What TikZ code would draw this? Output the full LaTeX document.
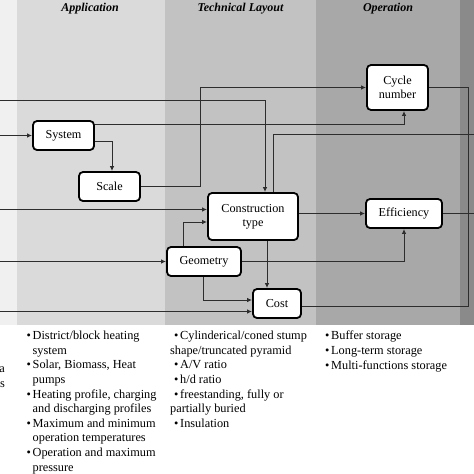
\documentclass[tikz,border=0pt]{standalone}
\usepackage{fontspec}
\setmainfont{Liberation Serif}
\usetikzlibrary{arrows.meta, positioning, calc}
\definecolor{colBandA}{RGB}{240,240,240}
\definecolor{colBandB}{RGB}{218,218,218}
\definecolor{colBandC}{RGB}{194,194,194}
\definecolor{colBandD}{RGB}{168,168,168}
\definecolor{colBandE}{RGB}{138,138,138}
\definecolor{colLine}{RGB}{45,45,45}

\begin{document}
\begin{tikzpicture}[
  x=1pt, y=-1pt,
  arr/.style={-{Latex[length=5pt,width=4.5pt]}, line width=1pt, draw=colLine},
  link/.style={line width=1pt, draw=colLine},
  box/.style={draw, line width=1.8pt, rounded corners=4pt, fill=white, inner sep=0pt,
              font=\fontsize{12.2}{14}\selectfont, align=center, minimum height=29pt},
  head/.style={font=\fontsize{12}{14}\selectfont\bfseries\itshape},
  listtxt/.style={anchor=north west, align=left, inner sep=0pt,
                  font=\fontsize{12.3}{14.6}\selectfont},
]
\useasboundingbox (0,0) rectangle (474,474);

% Phase bands
\foreach \xa/\xb/\col in {0/17/colBandA, 17/165/colBandB, 165/316/colBandC,
                           316/460/colBandD, 460/474/colBandE} {
  \fill[\col] (\xa,0) rectangle (\xb,325);
}
\node[head] (hApp) at (90,9) {Application};
\node[head] (hTech) at (240.5,9) {Technical Layout};
\node[head] (hOp) at (388,9) {Operation};

% Blocks
\node[box, minimum width=61pt] (sys) at (63.5,135.5) {System};
\node[box, minimum width=61pt] (scale) at (109.5,186.5) {Scale};
\node[box, minimum width=90pt, minimum height=47pt] (constr) at (253,216.5) {Construction\\type};
\node[box, minimum width=74pt] (geom) at (204,261.5) {Geometry};
\node[box, minimum width=48pt] (cost) at (277,303.5) {Cost};
\node[box, minimum width=76pt] (eff) at (404,213.5) {Efficiency};
\node[box, minimum width=61pt, minimum height=45pt] (cycle) at (397.5,87.5) {Cycle\\number};

% Free ends
\coordinate (in0) at (0,100);
\coordinate (in1) at (0,135.5);
\coordinate (in2) at (0,209.5);
\coordinate (in3) at (0,261.5);
\coordinate (in4) at (0,311.5);
\coordinate (out1) at (474,134);
\coordinate (out2) at (474,213.5);
\coordinate (rail) at (468,306);
\coordinate (cdrop) at ($(constr.south)+(14,0)$);
\coordinate (cup) at ($(constr.north)+(20,0)$);

% Connectors
\draw[arr] (in0) -| ($(constr.north)+(12,0)$);
\draw[arr] (in1) -- (sys.west);
\draw[arr] ($(sys.east)+(0,-11.5)$) -| ($(cycle.south)+(6.5,0)$);
\draw[arr] ($(sys.east)+(0,5.5)$) -| ($(scale.north)+(2.5,0)$);
\draw[arr] (scale.east) -- ++(60,0) |- (cycle.west);
\draw[arr] (in2) -- (in2 -| constr.west);
\draw[arr] ($(geom.north)+(-21,0)$) |- ($(constr.west)+(0,5.5)$);
\draw[arr] (in3) -- (geom.west);
\draw[arr] (geom.east) -| (eff.south);
\draw[arr] ($(geom.south)+(-1,0)$) |- ($(cost.west)+(0,-3.5)$);
\draw[arr] (in4) -- (in4 -| cost.west);
\draw[arr] (cdrop) -- (cdrop |- cost.north);
\draw[arr] (constr.east |- eff.west) -- (eff.west);
\draw[link] (cup) |- (out1);
\draw[link] (cycle.east) -| (rail) -- (rail -| cost.east);
\draw[link] (eff.east) -- (out2);

% Lists under the bands
\node[listtxt, anchor=north east, align=right] (cutlist) at (5,367) {a\\s};
\node[listtxt] (appList) at (32.5,331) {\llap{\textbullet\hspace{1.8pt}}District/block heating\\
  system\\
  \llap{\textbullet\hspace{1.8pt}}Solar, Biomass, Heat\\
  pumps\\
  \llap{\textbullet\hspace{1.8pt}}Heating profile, charging\\
  and discharging profiles\\
  \llap{\textbullet\hspace{1.8pt}}Maximum and minimum\\
  operation temperatures\\
  \llap{\textbullet\hspace{1.8pt}}Operation and maximum\\
  pressure};
\node[listtxt] (techList) at (170,331) {\hspace{10pt}\llap{\textbullet\hspace{1.8pt}}Cylinderical/coned stump\\
  shape/truncated pyramid\\
  \hspace{10pt}\llap{\textbullet\hspace{1.8pt}}A/V ratio\\
  \hspace{10pt}\llap{\textbullet\hspace{1.8pt}}h/d ratio\\
  \hspace{10pt}\llap{\textbullet\hspace{1.8pt}}freestanding, fully or\\
  partially buried\\
  \hspace{10pt}\llap{\textbullet\hspace{1.8pt}}Insulation};
\node[listtxt] (opList) at (331,331) {\llap{\textbullet\hspace{1.8pt}}Buffer storage\\
  \llap{\textbullet\hspace{1.8pt}}Long-term storage\\
  \llap{\textbullet\hspace{1.8pt}}Multi-functions storage};

\end{tikzpicture}
\end{document}
